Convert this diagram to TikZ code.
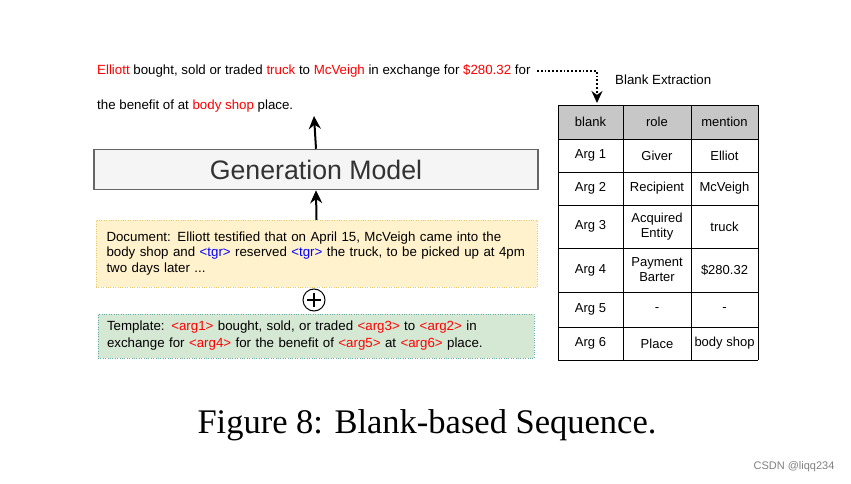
\documentclass[tikz,border=0pt]{standalone}
\usepackage{fontspec}
\setmainfont{Liberation Sans}
\newfontfamily\capfont{Liberation Serif}
\usetikzlibrary{arrows.meta}
\definecolor{tred}{RGB}{255,0,0}
\definecolor{tblue}{RGB}{0,0,255}
\begin{document}
\begin{tikzpicture}[x=1pt,y=-1pt,
  txt/.style={font=\fontsize{13.3}{16}\selectfont,inner sep=0pt,anchor=west},
  cell/.style={font=\fontsize{13}{15}\selectfont,align=center},
  arr/.style={-{Stealth[length=13pt,width=12pt]},line width=2pt}]
\useasboundingbox (0,0) rectangle (851,484);
\newcommand{\R}[1]{\textcolor{tred}{#1}}
\newcommand{\B}[1]{\textcolor{tblue}{#1}}
\node[txt] (l1) at (97,71) {\R{Elliott} bought, sold or traded \R{truck} to \R{McVeigh} in exchange for \R{\$280.32} for};
\node[txt] (l2) at (97,106) {the benefit of at \R{body shop} place.};
\node[draw=black!60,line width=1.5pt,fill=black!4,minimum width=444pt,minimum height=40pt,font=\fontsize{26.7}{30}\selectfont,text=black!80] (gen) at (316,169.5) {Generation Model};
\node[draw={rgb,255:red,230;green,200;blue,110},dotted,fill={rgb,255:red,255;green,242;blue,204},minimum width=441pt,minimum height=67pt,text width=420pt,align=left,font=\fontsize{13.3}{15.5}\selectfont] (doc) at (316.5,253.5) {Document: Elliott testified that on April 15, McVeigh came into the\\ body shop and \B{<tgr>} reserved \B{<tgr>} the truck, to be picked up at 4pm\\ two days later ...};
\node[draw,circle,line width=1pt,minimum size=22pt,inner sep=0pt] (plus) at (314,300) {};
\draw[line width=1.6pt] (plus.center)++(-7,0) -- ++(14,0) (plus.center)++(0,-7) -- ++(0,14);
\node[draw={rgb,255:red,100;green,170;blue,170},dotted,fill={rgb,255:red,213;green,232;blue,212},minimum width=436pt,minimum height=44pt,text width=418pt,align=left,font=\fontsize{13.3}{17}\selectfont] (tpl) at (316,336) {Template: \R{<arg1>} bought, sold, or traded \R{<arg3>} to \R{<arg2>} in\\ exchange for \R{<arg4>} for the benefit of \R{<arg5>} at \R{<arg6>} place.};
\draw[arr] (doc.north) -- (gen.south);
\draw[arr] (gen.north) -- (314,116);
% table
\fill[black!22] (558,105) rectangle (758,139);
\foreach \y in {105,139,172,205,248,292,327,360} \draw[line width=0.8pt] (558,\y) -- (758,\y);
\foreach \x in {558,623,691,758} \draw[line width=0.8pt] (\x,105) -- (\x,360);
\coordinate (tt) at (597,103);
\draw[dotted,line width=1.8pt,-{Stealth[length=12pt,width=11pt]}] (537,71) -- (597,71) -- (tt);
\node[txt] (be) at (615,80) {Blank Extraction};
\foreach \a/\b/\c/\y in {blank/role/mention/122, Arg 1/Giver/Elliot/155.5, Arg 2/Recipient/McVeigh/188.5, Arg 3/Acquired\\Entity/truck/226.5, Arg 4/Payment\\Barter/\$280.32/270, Arg 5/-/-/309.5, Arg 6/Place/body shop/343.5}{
  \node[cell] at (590.5,\y) {\a};
  \node[cell] at (657,\y) {\b};
  \node[cell] at (724.5,\y) {\c};
}
\node[font=\capfont\fontsize{34.5}{38}\selectfont] (cap) at (427,425) {Figure 8: Blank-based Sequence.};
\node[font=\fontsize{11}{12}\selectfont,text=black!50,anchor=east] (csdn) at (838,467) {CSDN @liqq234};
\end{tikzpicture}
\end{document}
